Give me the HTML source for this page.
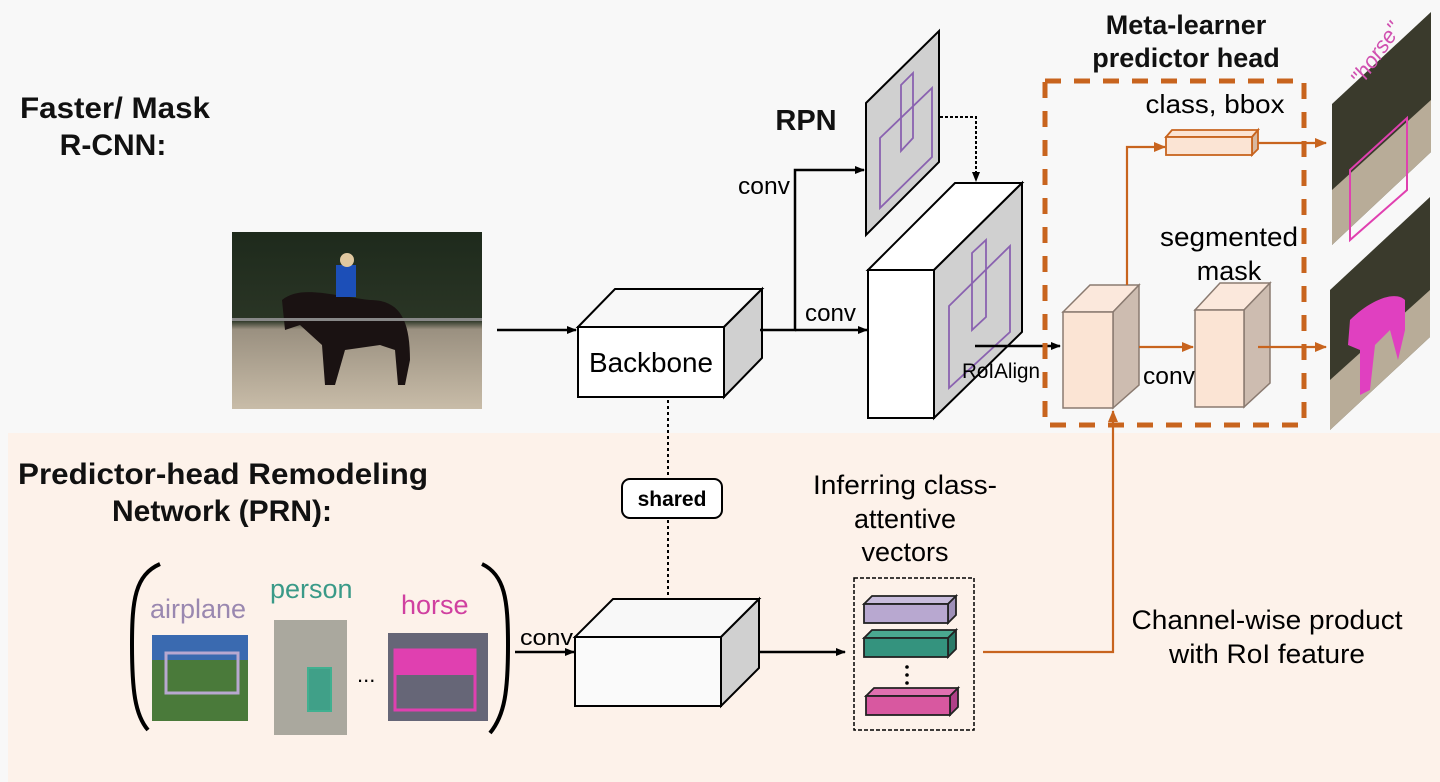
<!DOCTYPE html>
<html><head><meta charset="utf-8"><style>
html,body{margin:0;padding:0;background:#f8f8f8;}
svg{display:block;font-family:"Liberation Sans",sans-serif;}
</style></head><body>
<svg width="1440" height="782" viewBox="0 0 1440 782" xmlns="http://www.w3.org/2000/svg">
<defs>
<marker id="ab" markerWidth="10" markerHeight="8" refX="9" refY="4" orient="auto" markerUnits="userSpaceOnUse"><path d="M0,0 L10,4 L0,8 z" fill="#000"/></marker>
<marker id="ao" markerWidth="12" markerHeight="10" refX="11" refY="5" orient="auto" markerUnits="userSpaceOnUse"><path d="M0,0 L12,5 L0,10 z" fill="#c8641e"/></marker>
<linearGradient id="ph" x1="0" y1="0" x2="0" y2="1"><stop offset="0" stop-color="#1e2a1c"/><stop offset="0.5" stop-color="#2a3525"/><stop offset="0.55" stop-color="#9a9080"/><stop offset="1" stop-color="#c8bca8"/></linearGradient>
</defs>
<rect x="0" y="0" width="1440" height="782" fill="#f8f8f8"/>
<rect x="8" y="433" width="1432" height="349" fill="#fdf2ea"/>

<!-- titles -->
<g font-weight="bold" font-size="30" fill="#111">
<text x="20" y="118" textLength="190" lengthAdjust="spacingAndGlyphs">Faster/ Mask</text>
<text x="113" y="155" text-anchor="middle">R-CNN:</text>
<text x="18" y="484" textLength="410" lengthAdjust="spacingAndGlyphs">Predictor-head Remodeling</text>
<text x="222" y="521" text-anchor="middle">Network (PRN):</text>
<text x="806" y="130" text-anchor="middle" font-size="29">RPN</text>
<text x="1186" y="34" text-anchor="middle" font-size="27">Meta-learner</text>
<text x="1186" y="67" text-anchor="middle" font-size="27">predictor head</text>
</g>

<!-- horse photo -->
<rect x="232" y="232" width="250" height="177" fill="url(#ph)"/>
<path d="M282,300 C300,285 330,295 370,300 C400,300 410,320 410,360 L405,385 L398,385 L395,350 L380,345 L345,350 L335,385 L325,385 L322,345 L300,325 L285,330 Z" fill="#1a1212"/>
<rect x="336" y="265" width="20" height="32" fill="#1c4fb8"/>
<circle cx="347" cy="260" r="7" fill="#e0c8a0"/>
<rect x="232" y="318" width="250" height="3" fill="#888"/>

<line x1="497" y1="330" x2="576" y2="330" stroke="#000" stroke-width="2.5" marker-end="url(#ab)"/>
<!-- backbone -->
<polygon points="578,327 615,289 762,289 724,327" fill="#f8f8f8" stroke="#000" stroke-width="2"/>
<polygon points="724,327 762,289 762,358 724,397" fill="#d0d0d0" stroke="#000" stroke-width="2"/>
<rect x="578" y="327" width="146" height="70" fill="#fff" stroke="#000" stroke-width="2"/>
<text x="651" y="372" text-anchor="middle" font-size="28" textLength="124" lengthAdjust="spacingAndGlyphs">Backbone</text>

<polyline points="760,330 795,330 795,170 864,170" fill="none" stroke="#000" stroke-width="2.5" marker-end="url(#ab)"/>
<line x1="795" y1="330" x2="867" y2="330" stroke="#000" stroke-width="2.5" marker-end="url(#ab)"/>
<text x="738" y="194" font-size="24" textLength="52" lengthAdjust="spacingAndGlyphs">conv</text>
<text x="805" y="321" font-size="24" textLength="51" lengthAdjust="spacingAndGlyphs">conv</text>

<!-- RPN plane -->
<polygon points="866,103 939,31 939,162 866,235" fill="#d0d0d0" stroke="#000" stroke-width="2"/>
<polygon points="880,138 932,88 932,157 880,208" fill="none" stroke="#8a62b0" stroke-width="1.8"/>
<polygon points="901,85 913,73 913,138 901,151" fill="none" stroke="#8a62b0" stroke-width="1.8"/>
<polyline points="940,117 976,117 976,181" fill="none" stroke="#000" stroke-width="2" stroke-dasharray="3,2" marker-end="url(#ab)"/>

<!-- big cube -->
<polygon points="868,270 955,183 1022,183 934,270" fill="#fff" stroke="#000" stroke-width="2"/>
<polygon points="934,270 1022,183 1022,332 934,418" fill="#d0d0d0" stroke="#000" stroke-width="2"/>
<rect x="868" y="270" width="66" height="148" fill="#fff" stroke="#000" stroke-width="2"/>
<polygon points="949,306 1010,246 1010,332 949,388" fill="none" stroke="#8a62b0" stroke-width="1.8"/>
<polygon points="972,253 986,240 986,317 972,330" fill="none" stroke="#8a62b0" stroke-width="1.8"/>
<line x1="975" y1="346" x2="1060" y2="346" stroke="#000" stroke-width="2.5" marker-end="url(#ab)"/>
<text x="962" y="378" font-size="21" textLength="78" lengthAdjust="spacingAndGlyphs">RoIAlign</text>

<!-- dashed orange box -->
<rect x="1045" y="81" width="259" height="344" fill="none" stroke="#c8641e" stroke-width="5" stroke-dasharray="16,13"/>
<text x="1215" y="113" text-anchor="middle" font-size="26" textLength="139" lengthAdjust="spacingAndGlyphs">class, bbox</text>
<text x="1229" y="246" text-anchor="middle" font-size="27" textLength="138" lengthAdjust="spacingAndGlyphs">segmented</text>
<text x="1229" y="280" text-anchor="middle" font-size="27">mask</text>

<g stroke="#8a7a70" stroke-width="1.5">
<polygon points="1063,312 1090,285 1139,285 1113,312" fill="#fbe8dc"/>
<polygon points="1113,312 1139,285 1139,385 1113,408" fill="#cdbcb0"/>
<rect x="1063" y="312" width="50" height="96" fill="#fbe4d4"/>
<polygon points="1195,310 1220,283 1270,283 1244,310" fill="#fbe8dc"/>
<polygon points="1244,310 1270,283 1270,383 1244,407" fill="#cdbcb0"/>
<rect x="1195" y="310" width="49" height="97" fill="#fbe4d4"/>
</g>
<g stroke="#c8641e" stroke-width="1.8">
<polygon points="1166,137 1172,130 1258,130 1252,137" fill="#fbe4d4"/>
<polygon points="1252,137 1258,130 1258,149 1252,155" fill="#d8b8a0"/>
<rect x="1166" y="137" width="86" height="18" fill="#fbe4d4"/>
</g>
<polyline points="1127,285 1127,147 1165,147" fill="none" stroke="#c8641e" stroke-width="2.2" marker-end="url(#ao)"/>
<line x1="1258" y1="143" x2="1326" y2="143" stroke="#c8641e" stroke-width="2.2" marker-end="url(#ao)"/>
<line x1="1139" y1="347" x2="1193" y2="347" stroke="#c8641e" stroke-width="2.2" marker-end="url(#ao)"/>
<line x1="1258" y1="347" x2="1326" y2="347" stroke="#c8641e" stroke-width="2.2" marker-end="url(#ao)"/>
<text x="1143" y="384" font-size="24" textLength="52" lengthAdjust="spacingAndGlyphs">conv</text>

<!-- output images -->
<polygon points="1332,104 1431,12 1431,152 1332,245" fill="#3a3a2c"/>
<polygon points="1332,190 1431,100 1431,152 1332,245" fill="#b8ac98"/>
<polygon points="1350,170 1407,118 1407,190 1350,240" fill="none" stroke="#e040b0" stroke-width="2"/>
<text x="1345" y="85" font-size="22" font-style="italic" fill="#d050b0" transform="rotate(-55 1355 70)">"horse"</text>
<polygon points="1330,290 1430,197 1430,337 1330,430" fill="#3a3a2c"/>
<polygon points="1330,380 1430,290 1430,337 1330,430" fill="#b8ac98"/>
<path d="M1350,320 C1370,300 1395,290 1405,300 L1405,330 L1398,360 L1390,330 L1375,345 L1370,390 L1360,395 L1360,350 L1348,345 Z" fill="#e040c0"/>

<!-- bottom section -->
<line x1="668" y1="400" x2="668" y2="598" stroke="#000" stroke-width="2" stroke-dasharray="3,3"/>
<rect x="622" y="479" width="100" height="39" rx="8" fill="#fff" stroke="#000" stroke-width="2"/>
<text x="672" y="506" text-anchor="middle" font-size="21" font-weight="bold">shared</text>

<g font-size="27" text-anchor="middle">
<text x="905" y="494" textLength="184" lengthAdjust="spacingAndGlyphs">Inferring class-</text>
<text x="905" y="528">attentive</text>
<text x="905" y="561">vectors</text>
<text x="1267" y="629" textLength="271" lengthAdjust="spacingAndGlyphs">Channel-wise product</text>
<text x="1267" y="663" textLength="196" lengthAdjust="spacingAndGlyphs">with RoI feature</text>
</g>

<!-- bracket -->
<path d="M160,564 C135,575 132,600 132,645 C132,690 135,715 148,730" fill="none" stroke="#000" stroke-width="4"/>
<path d="M482,564 C505,575 508,600 508,645 C508,690 505,715 490,733" fill="none" stroke="#000" stroke-width="4"/>
<text x="150" y="618" font-size="27" fill="#9a88b0">airplane</text>
<text x="270" y="598" font-size="27" fill="#3a9a88">person</text>
<text x="401" y="614" font-size="27" fill="#d040a0">horse</text>
<rect x="152" y="635" width="96" height="86" fill="#4a7a3a"/>
<rect x="152" y="635" width="96" height="25" fill="#3a6ab0"/>
<rect x="166" y="653" width="72" height="40" fill="none" stroke="#b8a8d0" stroke-width="3"/>
<rect x="274" y="620" width="73" height="115" fill="#aaa89e"/>
<rect x="308" y="668" width="23" height="43" fill="#40a088" stroke="#40b090" stroke-width="2"/>
<text x="357" y="682" font-size="22">...</text>
<rect x="388" y="633" width="100" height="88" fill="#667"/>
<rect x="395" y="650" width="80" height="25" fill="#e040b0"/>
<rect x="395" y="650" width="80" height="60" fill="none" stroke="#e040b0" stroke-width="3"/>

<line x1="515" y1="652" x2="574" y2="652" stroke="#000" stroke-width="2.5" marker-end="url(#ab)"/>
<text x="520" y="645" font-size="22" textLength="53" lengthAdjust="spacingAndGlyphs">conv</text>
<polygon points="575,637 613,599 759,599 721,637" fill="#f8f8f8" stroke="#000" stroke-width="2"/>
<polygon points="721,637 759,599 759,668 721,706" fill="#d0d0d0" stroke="#000" stroke-width="2"/>
<rect x="575" y="637" width="146" height="69" fill="#fafafa" stroke="#000" stroke-width="2"/>
<line x1="759" y1="652" x2="845" y2="652" stroke="#000" stroke-width="2.5" marker-end="url(#ab)"/>

<rect x="854" y="578" width="120" height="152" fill="none" stroke="#000" stroke-width="1.5" stroke-dasharray="4,2"/>
<g stroke="#222" stroke-width="1.8">
<polygon points="864,604 872,596 956,596 948,604" fill="#c8bcdc"/>
<polygon points="948,604 956,596 956,615 948,623" fill="#9e90b8"/>
<rect x="864" y="604" width="84" height="19" fill="#b8a8d0"/>
<polygon points="864,638 872,630 956,630 948,638" fill="#4aa890"/>
<polygon points="948,638 956,630 956,649 948,657" fill="#2a7a68"/>
<rect x="864" y="638" width="84" height="19" fill="#34937e"/>
<polygon points="866,696 874,688 958,688 950,696" fill="#e070b0"/>
<polygon points="950,696 958,688 958,707 950,715" fill="#b04088"/>
<rect x="866" y="696" width="84" height="19" fill="#d858a0"/>
</g>
<circle cx="907" cy="667" r="1.8" fill="#000"/><circle cx="907" cy="675" r="1.8" fill="#000"/><circle cx="907" cy="683" r="1.8" fill="#000"/>
<polyline points="983,652 1113,652 1113,411" fill="none" stroke="#c8641e" stroke-width="2.2" marker-end="url(#ao)"/>
</svg>
</body></html>
